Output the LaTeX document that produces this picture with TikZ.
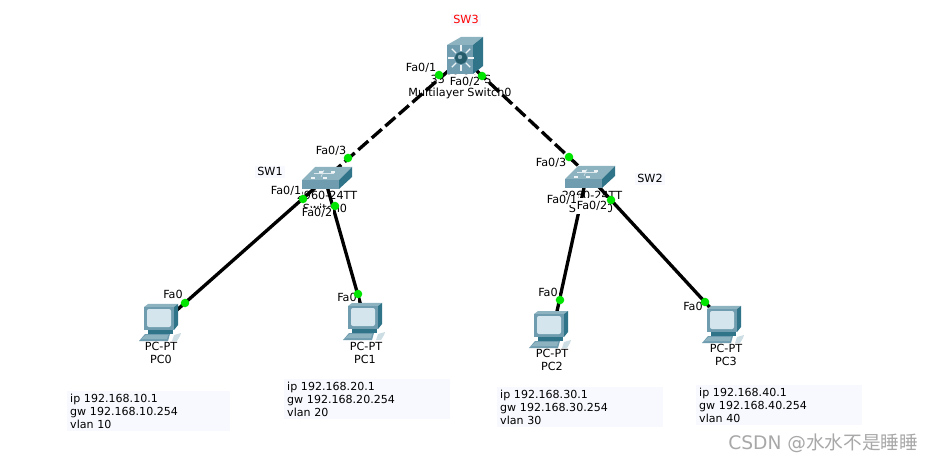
\documentclass[tikz,border=0pt]{standalone}
\usepackage{fontspec}
\setmainfont{DejaVu Sans}
\newfontfamily\cjkwm{Noto Sans CJK SC}
\definecolor{fr}{HTML}{6F9DAF}
\definecolor{tp}{HTML}{8DB3C0}
\definecolor{sd}{HTML}{2F7488}
\definecolor{boxc}{HTML}{F8F9FE}
\definecolor{scr}{HTML}{D5E5EE}
\definecolor{wm}{HTML}{A8A8A8}
\tikzset{
  lnk/.style={line width=2.5pt,black},
  dlnk/.style={lnk,dash pattern=on 10pt off 3.5pt},
  port/.style={circle,fill=green!90!black,draw=none,minimum size=6.4pt,inner sep=0pt},
  lab/.style={font=\fontsize{8.4pt}{9pt}\selectfont,inner sep=0pt,text=black,text height=6.2pt,text depth=1.4pt},
  iflab/.style={lab,fill=white,inner xsep=1pt},
  tag/.style={lab,fill=boxc,inner xsep=2pt,inner ysep=1pt},
  info/.style={fill=boxc,draw=none,align=left,anchor=north west,text=black,
     font=\fontsize{8.3pt}{9.8pt}\selectfont,inner xsep=2.2pt,inner ysep=1.8pt},
  pics/l2sw/.style={code={
    \fill[fr] (-23,0) rectangle (14,9);
    \fill[tp] (-23,0) -- (-10,-13) -- (27,-13) -- (14,0) -- cycle;
    \fill[sd] (14,0) -- (27,-13) -- (27,-3) -- (14,9) -- cycle;
    \foreach \a/\b in {-14/-3,-2/-3,-6/-9,6/-9}{\fill[white!85!tp] (\a,\b) rectangle ++(4,1.6);}
    \draw[white!70!tp,line width=0.4pt] (-11,-6.5) -- (9,-6.5) (-1,-10) -- (-4,-3);
  }},
  pics/l3sw/.style={code={
    \fill[fr] (-16,-13) rectangle (10,16);
    \fill[tp] (-16,-13) -- (-2,-21) -- (20,-21) -- (10,-13) -- cycle;
    \fill[sd] (10,-13) -- (20,-21) -- (20,8) -- (10,16) -- cycle;
    \begin{scope}[shift={(-2,0)}]
      \foreach \r in {0,45,...,315}{\draw[white!85!tp,line width=1pt,rotate=\r] (7,0) -- (13,0);}
      \fill[sd!80!black] (0,0) circle (6);
      \fill[white!45!sd] (-1,-1) circle (2.2);
    \end{scope}
  }},
  pics/pcicon/.style={code={
    \fill[tp] (-16,-17) -- (-12,-20) -- (18,-20) -- (14,-17) -- cycle;
    \fill[sd] (14,-17) -- (18,-20) -- (18,1) -- (14,6) -- cycle;
    \fill[fr] (-16,-17) rectangle (14,6);
    \fill[scr,rounded corners=1.5pt] (-13,-15) rectangle (11,3);
    \fill[sd] (-12,6) rectangle (13,10);
    \fill[fr] (-21,17) -- (-15,10) -- (10,10) -- (8,17) -- cycle;
    \fill[tp] (-19,15) -- (-14,11) -- (8,11) -- (7,15) -- cycle;
    \fill[white!55!tp] (12,17) -- (14,11) -- (21,9) -- (20,12) -- (17,17) -- cycle;
  }}
}
\begin{document}
\begin{tikzpicture}[x=0.75pt,y=-0.75pt]
\useasboundingbox[fill=white] (0,0) rectangle (935,463);
% device centres
\coordinate (sw3) at (463,58);
\coordinate (sw1) at (325,179);
\coordinate (sw2) at (587,174);
\coordinate (pc0) at (160,325);
\coordinate (pc1) at (365,320);
\coordinate (pc2) at (554,325);
\coordinate (pc3) at (727,326);
% device captions (overlapped by the port labels, as in the reference)
\node[lab] (m3) at (461,80) {3560-24PS};
\node[lab] (m1) at (327,196) {2960-24TT};
\node[lab] (n1) at (325,209) {Switch0};
\node[lab] (m2) at (592,196) {2960-24TT};
\node[lab] (n2) at (591,209) {Switch0};
\node[lab] (m4) at (161,347) {PC-PT};
\node[lab] (n4) at (161,360) {PC0};
\node[lab] (m5) at (366,347) {PC-PT};
\node[lab] (n5) at (365,360) {PC1};
\node[lab] (m6) at (552,354) {PC-PT};
\node[lab] (n6) at (552,367) {PC2};
\node[lab] (m7) at (726,349) {PC-PT};
\node[lab] (n7) at (726,362) {PC3};
% port labels that mask the captions
\node[iflab,inner xsep=4pt,inner ysep=1.5pt] (f2) at (465,82) {Fa0/2};
\node[lab] (n3) at (460,93) {Multilayer Switch0};
% links
\draw[dlnk] (sw3) -- (sw1);
\draw[dlnk] (sw3) -- (sw2);
\draw[lnk] (sw1) -- (pc0);
\draw[lnk] (sw1) -- (pc1);
\draw[lnk] (sw2) -- (pc2);
\draw[lnk] (sw2) -- (pc3);
% icons
\pic at (463,58) {l3sw};
\pic at (325,180) {l2sw};
\pic at (588,179) {l2sw};
\pic at (160,324) {pcicon};
\pic at (364,323) {pcicon};
\pic at (550,331) {pcicon};
\pic at (723,326) {pcicon};
% port hidden under a label
\node[port] (pg) at (582,207) {};
% port labels
\node[iflab] (f1) at (421,68) {Fa0/1};
\node[iflab] (f3) at (331,151) {Fa0/3};
\node[iflab] (f4) at (286,191) {Fa0/1};
\node[iflab] (f5) at (317,213) {Fa0/2};
\node[iflab] (f6) at (551,163) {Fa0/3};
\node[iflab] (f7) at (562,200) {Fa0/1};
\node[iflab,inner ysep=2pt] (f8) at (592,206) {Fa0/2};
\node[iflab] (f9) at (173,295) {Fa0};
\node[iflab] (f10) at (347,298) {Fa0};
\node[iflab] (f11) at (548,293) {Fa0};
\node[iflab] (f12) at (693,307) {Fa0};
% ports
\foreach \n/\x/\y in {a/439/75,b/482/76,c/348/158,d/303/199,e/335/206,f/569/157,h/611/200,i/185/303,j/358/294,k/560/300,l/705/302}
  \node[port] (p\n) at (\x,\y) {};
% tags
\node[tag,text=red] (t3) at (466,20) {SW3};
\node[tag] (t1) at (270,172) {SW1};
\node[tag] (t2) at (650,179) {SW2};
% address notes
\node[info,text width=118pt] (i0) at (67,391) {ip 192.168.10.1\\gw 192.168.10.254\\vlan 10};
\node[info,text width=120pt] (i1) at (284,379) {ip 192.168.20.1\\gw 192.168.20.254\\vlan 20};
\node[info,text width=120pt] (i2) at (497,387) {ip 192.168.30.1\\gw 192.168.30.254\\vlan 30};
\node[info,text width=120pt] (i3) at (696,385) {ip 192.168.40.1\\gw 192.168.40.254\\vlan 40};
% watermark
\node[anchor=west,inner sep=0pt,text=wm,font=\fontsize{14pt}{16pt}\selectfont] (wmk) at (728,443) {CSDN @{\cjkwm 水水不是睡睡}};
\end{tikzpicture}
\end{document}
